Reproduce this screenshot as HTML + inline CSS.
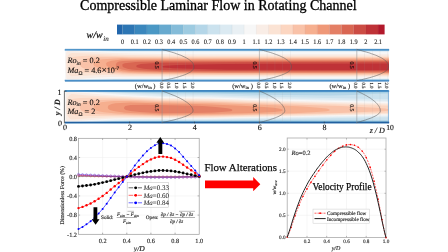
<!DOCTYPE html>
<html><head><meta charset="utf-8"><style>
html,body{margin:0;padding:0;background:#fff;width:448px;height:252px;overflow:hidden}
svg{display:block}
text{font-family:"Liberation Serif","Times New Roman",serif;stroke:#000;stroke-width:0.2px;stroke-opacity:0.6;text-rendering:geometricPrecision}
</style></head><body>
<svg width="448" height="252" viewBox="0 0 448 252">
<rect width="448" height="252" fill="#fff"/>
<text transform="translate(218.3 10.4) scale(0.96 1)" font-size="14.6" text-anchor="middle" fill="#000" style="stroke-width:0.3px;stroke-opacity:1;text-rendering:auto">Compressible Laminar Flow in Rotating Channel</text>
<text x="86.5" y="38.3" font-size="10" font-style="italic" fill="#000" style="stroke-width:0.3px;text-rendering:geometricPrecision">w/w<tspan font-size="7" dx="0.6" dy="2.4" style="stroke-width:0.1px">in</tspan></text>
<rect x="117" y="24.6" width="5.50" height="9.8" fill="#2166ac"/>
<rect x="122.50" y="24.6" width="12.22" height="9.8" fill="#2d76b4"/>
<rect x="134.67" y="24.6" width="12.22" height="9.8" fill="#3a87bd"/>
<rect x="146.84" y="24.6" width="12.22" height="9.8" fill="#4a98c5"/>
<rect x="159.01" y="24.6" width="12.22" height="9.8" fill="#67aacf"/>
<rect x="171.18" y="24.6" width="12.22" height="9.8" fill="#84bcd9"/>
<rect x="183.35" y="24.6" width="12.22" height="9.8" fill="#9dcbe1"/>
<rect x="195.52" y="24.6" width="12.22" height="9.8" fill="#b4d6e8"/>
<rect x="207.69" y="24.6" width="12.22" height="9.8" fill="#cbe2ee"/>
<rect x="219.86" y="24.6" width="12.22" height="9.8" fill="#dbeaf2"/>
<rect x="232.03" y="24.6" width="12.22" height="9.8" fill="#e9f0f4"/>
<rect x="244.20" y="24.6" width="12.22" height="9.8" fill="#f7f7f7"/>
<rect x="256.37" y="24.6" width="12.22" height="9.8" fill="#f9ede6"/>
<rect x="268.54" y="24.6" width="12.22" height="9.8" fill="#fbe3d4"/>
<rect x="280.71" y="24.6" width="12.22" height="9.8" fill="#fcd6c1"/>
<rect x="292.88" y="24.6" width="12.22" height="9.8" fill="#f9c2a8"/>
<rect x="305.05" y="24.6" width="12.22" height="9.8" fill="#f6af8f"/>
<rect x="317.22" y="24.6" width="12.22" height="9.8" fill="#ef9878"/>
<rect x="329.39" y="24.6" width="12.22" height="9.8" fill="#e47f65"/>
<rect x="341.56" y="24.6" width="12.22" height="9.8" fill="#d96652"/>
<rect x="353.73" y="24.6" width="12.22" height="9.8" fill="#cc4c44"/>
<rect x="365.90" y="24.6" width="12.22" height="9.8" fill="#bf3237"/>
<rect x="378.07" y="24.6" width="6.53" height="9.8" fill="#b2182b"/>
<line x1="122.50" y1="24.6" x2="122.50" y2="34.4" stroke="#000" stroke-opacity="0.07" stroke-width="0.6"/>
<line x1="134.67" y1="24.6" x2="134.67" y2="34.4" stroke="#000" stroke-opacity="0.07" stroke-width="0.6"/>
<line x1="146.84" y1="24.6" x2="146.84" y2="34.4" stroke="#000" stroke-opacity="0.07" stroke-width="0.6"/>
<line x1="159.01" y1="24.6" x2="159.01" y2="34.4" stroke="#000" stroke-opacity="0.07" stroke-width="0.6"/>
<line x1="171.18" y1="24.6" x2="171.18" y2="34.4" stroke="#000" stroke-opacity="0.07" stroke-width="0.6"/>
<line x1="183.35" y1="24.6" x2="183.35" y2="34.4" stroke="#000" stroke-opacity="0.07" stroke-width="0.6"/>
<line x1="195.52" y1="24.6" x2="195.52" y2="34.4" stroke="#000" stroke-opacity="0.07" stroke-width="0.6"/>
<line x1="207.69" y1="24.6" x2="207.69" y2="34.4" stroke="#000" stroke-opacity="0.07" stroke-width="0.6"/>
<line x1="219.86" y1="24.6" x2="219.86" y2="34.4" stroke="#000" stroke-opacity="0.07" stroke-width="0.6"/>
<line x1="232.03" y1="24.6" x2="232.03" y2="34.4" stroke="#000" stroke-opacity="0.07" stroke-width="0.6"/>
<line x1="244.20" y1="24.6" x2="244.20" y2="34.4" stroke="#000" stroke-opacity="0.07" stroke-width="0.6"/>
<line x1="256.37" y1="24.6" x2="256.37" y2="34.4" stroke="#000" stroke-opacity="0.07" stroke-width="0.6"/>
<line x1="268.54" y1="24.6" x2="268.54" y2="34.4" stroke="#000" stroke-opacity="0.07" stroke-width="0.6"/>
<line x1="280.71" y1="24.6" x2="280.71" y2="34.4" stroke="#000" stroke-opacity="0.07" stroke-width="0.6"/>
<line x1="292.88" y1="24.6" x2="292.88" y2="34.4" stroke="#000" stroke-opacity="0.07" stroke-width="0.6"/>
<line x1="305.05" y1="24.6" x2="305.05" y2="34.4" stroke="#000" stroke-opacity="0.07" stroke-width="0.6"/>
<line x1="317.22" y1="24.6" x2="317.22" y2="34.4" stroke="#000" stroke-opacity="0.07" stroke-width="0.6"/>
<line x1="329.39" y1="24.6" x2="329.39" y2="34.4" stroke="#000" stroke-opacity="0.07" stroke-width="0.6"/>
<line x1="341.56" y1="24.6" x2="341.56" y2="34.4" stroke="#000" stroke-opacity="0.07" stroke-width="0.6"/>
<line x1="353.73" y1="24.6" x2="353.73" y2="34.4" stroke="#000" stroke-opacity="0.07" stroke-width="0.6"/>
<line x1="365.90" y1="24.6" x2="365.90" y2="34.4" stroke="#000" stroke-opacity="0.07" stroke-width="0.6"/>
<line x1="378.07" y1="24.6" x2="378.07" y2="34.4" stroke="#000" stroke-opacity="0.07" stroke-width="0.6"/>
<text transform="translate(122.50 43.9) scale(1 1.1)" font-size="6.3" text-anchor="middle" fill="#111" style="stroke-opacity:0.3">0</text>
<text transform="translate(134.67 43.9) scale(1 1.1)" font-size="6.3" text-anchor="middle" fill="#111" style="stroke-opacity:0.3">0.1</text>
<text transform="translate(146.84 43.9) scale(1 1.1)" font-size="6.3" text-anchor="middle" fill="#111" style="stroke-opacity:0.3">0.2</text>
<text transform="translate(159.01 43.9) scale(1 1.1)" font-size="6.3" text-anchor="middle" fill="#111" style="stroke-opacity:0.3">0.3</text>
<text transform="translate(171.18 43.9) scale(1 1.1)" font-size="6.3" text-anchor="middle" fill="#111" style="stroke-opacity:0.3">0.4</text>
<text transform="translate(183.35 43.9) scale(1 1.1)" font-size="6.3" text-anchor="middle" fill="#111" style="stroke-opacity:0.3">0.5</text>
<text transform="translate(195.52 43.9) scale(1 1.1)" font-size="6.3" text-anchor="middle" fill="#111" style="stroke-opacity:0.3">0.6</text>
<text transform="translate(207.69 43.9) scale(1 1.1)" font-size="6.3" text-anchor="middle" fill="#111" style="stroke-opacity:0.3">0.7</text>
<text transform="translate(219.86 43.9) scale(1 1.1)" font-size="6.3" text-anchor="middle" fill="#111" style="stroke-opacity:0.3">0.8</text>
<text transform="translate(232.03 43.9) scale(1 1.1)" font-size="6.3" text-anchor="middle" fill="#111" style="stroke-opacity:0.3">0.9</text>
<text transform="translate(244.20 43.9) scale(1 1.1)" font-size="6.3" text-anchor="middle" fill="#111" style="stroke-opacity:0.3">1</text>
<text transform="translate(256.37 43.9) scale(1 1.1)" font-size="6.3" text-anchor="middle" fill="#111" style="stroke-opacity:0.3">1.1</text>
<text transform="translate(268.54 43.9) scale(1 1.1)" font-size="6.3" text-anchor="middle" fill="#111" style="stroke-opacity:0.3">1.2</text>
<text transform="translate(280.71 43.9) scale(1 1.1)" font-size="6.3" text-anchor="middle" fill="#111" style="stroke-opacity:0.3">1.3</text>
<text transform="translate(292.88 43.9) scale(1 1.1)" font-size="6.3" text-anchor="middle" fill="#111" style="stroke-opacity:0.3">1.4</text>
<text transform="translate(305.05 43.9) scale(1 1.1)" font-size="6.3" text-anchor="middle" fill="#111" style="stroke-opacity:0.3">1.5</text>
<text transform="translate(317.22 43.9) scale(1 1.1)" font-size="6.3" text-anchor="middle" fill="#111" style="stroke-opacity:0.3">1.6</text>
<text transform="translate(329.39 43.9) scale(1 1.1)" font-size="6.3" text-anchor="middle" fill="#111" style="stroke-opacity:0.3">1.7</text>
<text transform="translate(341.56 43.9) scale(1 1.1)" font-size="6.3" text-anchor="middle" fill="#111" style="stroke-opacity:0.3">1.8</text>
<text transform="translate(353.73 43.9) scale(1 1.1)" font-size="6.3" text-anchor="middle" fill="#111" style="stroke-opacity:0.3">1.9</text>
<text transform="translate(365.90 43.9) scale(1 1.1)" font-size="6.3" text-anchor="middle" fill="#111" style="stroke-opacity:0.3">2</text>
<text transform="translate(378.07 43.9) scale(1 1.1)" font-size="6.3" text-anchor="middle" fill="#111" style="stroke-opacity:0.3">2.1</text>
<clipPath id="cp0"><rect x="65" y="48.8" width="324" height="32.7"/></clipPath>
<g><g clip-path="url(#cp0)">
<rect x="61.5" y="48.8" width="331.0" height="32.7" fill="#2166ac"/>
<path fill="#2d76b4" d="M61.5 81.1 61.5 81.5 392.4 81.5 392.4 48.8 61.5 48.8 61.5 81.1Z"/>
<path fill="#3a87bd" d="M61.5 81.1 61.5 81.2 66.6 81.3 113.9 81.0 392.4 81.0 392.4 49.3 113.9 49.3 61.5 49.1 61.5 81.1Z"/>
<path fill="#4a98c5" d="M61.5 80.7 61.5 81.0 66.6 81.0 113.9 80.7 392.4 80.7 392.4 49.6 113.9 49.6 61.5 49.3 61.5 80.7Z"/>
<path fill="#67aacf" d="M61.5 80.7 61.5 80.9 66.6 80.9 113.9 80.5 392.4 80.5 392.4 49.8 113.9 49.8 61.5 49.4 61.5 80.7Z"/>
<path fill="#84bcd9" d="M61.5 80.7 61.5 80.8 67.8 80.8 113.9 80.3 392.4 80.2 392.4 50.1 113.9 50.0 61.5 49.5 61.5 80.7Z"/>
<path fill="#9dcbe1" d="M61.5 80.7 113.9 80.1 392.4 80.0 392.4 50.3 113.9 50.2 61.5 49.6 61.5 80.7Z"/>
<path fill="#b4d6e8" d="M61.5 80.3 61.5 80.5 66.6 80.6 113.9 79.8 392.4 79.8 392.4 50.5 113.9 50.5 61.5 49.8 61.5 80.3Z"/>
<path fill="#cbe2ee" d="M61.5 80.3 61.5 80.4 70.4 80.4 113.9 79.6 392.4 79.6 392.4 50.7 113.9 50.7 71.7 49.9 61.5 49.9 61.5 80.3Z"/>
<path fill="#dbeaf2" d="M64.1 80.3 72.1 80.3 113.9 79.3 392.4 79.3 392.4 51.0 113.9 51.0 71.7 50.0 61.5 50.0 61.5 80.3 64.1 80.3Z"/>
<path fill="#e9f0f4" d="M61.5 79.8 61.5 80.0 66.6 80.1 70.4 80.1 113.9 79.0 392.4 78.9 392.4 51.4 129.2 51.3 112.6 51.3 70.4 50.2 61.5 50.3 61.5 79.8Z"/>
<path fill="#f7f7f7" d="M66.1 79.8 72.3 79.8 113.9 78.4 392.4 78.3 392.4 52.1 133.0 52.0 113.9 51.8 73.0 50.5 66.6 50.4 64.4 50.9 64.1 51.3 64.0 51.7 64.0 78.6 64.1 79.0 64.5 79.4 66.1 79.8Z"/>
<path fill="#f9ede6" d="M66.7 79.0 69.1 79.3 71.7 79.4 97.2 77.6 111.3 77.1 129.2 77.3 186.7 77.1 392.4 77.2 392.4 54.2 214.8 54.2 158.6 54.0 130.5 53.5 112.6 52.9 72.9 50.9 68.8 50.9 66.5 51.3 66.1 52.9 65.7 55.8 65.6 62.0 65.7 71.6 66.1 76.5 66.5 78.6 66.7 79.0Z"/>
<path fill="#fbe3d4" d="M71.2 76.1 71.7 76.3 93.4 75.2 101.1 75.0 110.0 75.1 130.5 75.9 392.4 76.0 392.4 55.8 217.4 55.8 158.6 55.6 129.2 55.1 71.7 53.0 69.9 53.8 68.8 54.6 67.8 55.8 66.8 58.3 66.5 60.8 66.6 68.5 67.1 71.2 67.8 72.9 68.9 74.5 70.4 75.8 71.2 76.1Z"/>
<path fill="#fcd6c1" d="M148.7 74.9 227.6 75.1 392.4 75.2 392.4 56.9 176.5 56.8 130.5 56.4 97.2 55.6 87.0 55.8 79.3 56.2 74.6 56.7 71.7 57.2 70.4 58.9 69.8 61.6 69.9 66.6 70.4 69.1 71.1 70.3 71.8 71.2 75.9 72.0 81.9 72.5 97.2 72.9 110.0 73.5 121.5 74.4 129.2 74.7 148.7 74.9Z"/>
<path fill="#f9c2a8" d="M150.0 74.0 227.6 74.4 392.4 74.4 392.4 57.8 194.4 57.8 130.5 57.5 121.5 57.2 97.2 57.3 90.8 57.9 87.0 58.5 83.1 59.6 80.9 60.8 80.2 61.6 79.9 62.9 79.9 64.5 80.3 65.8 80.9 66.6 82.0 67.4 83.6 68.3 85.7 69.0 88.3 69.6 92.1 70.2 110.0 71.9 122.8 73.4 130.5 73.8 150.0 74.0Z"/>
<path fill="#f6af8f" d="M208.7 73.6 392.4 73.8 392.4 58.6 193.1 58.7 129.2 58.5 121.5 58.3 102.3 59.2 97.2 59.9 95.7 60.4 94.2 61.2 93.5 62.0 93.3 63.7 93.6 64.9 94.7 66.2 96.2 67.0 98.4 67.8 102.3 68.9 121.5 72.2 130.5 72.9 161.1 73.5 208.7 73.6Z"/>
<path fill="#ef9878" d="M174.8 72.8 227.6 73.1 392.4 73.1 392.4 59.4 121.5 59.5 113.9 60.4 111.5 60.8 107.5 62.0 106.8 62.5 106.3 63.3 106.3 64.5 106.6 65.4 107.9 66.6 112.6 68.7 118.5 70.3 122.8 71.2 131.6 72.0 161.1 72.7 174.8 72.8Z"/>
<path fill="#e47f65" d="M223.2 72.4 392.4 72.5 392.4 60.3 162.4 60.4 136.9 60.6 122.8 60.9 119.0 61.6 117.9 62.0 116.6 62.9 115.9 64.1 115.8 65.4 116.1 66.2 116.8 67.0 117.8 67.8 119.3 68.7 121.5 69.5 129.2 70.7 136.9 71.2 162.4 72.0 223.2 72.4Z"/>
<path fill="#d96652" d="M209.9 71.6 392.4 71.8 392.4 61.1 162.4 61.4 135.6 62.0 124.8 63.3 123.5 63.7 122.8 64.1 122.5 64.5 122.4 65.8 122.7 66.6 123.8 67.4 127.4 68.7 131.7 69.5 136.9 70.0 162.4 71.2 209.9 71.6Z"/>
<path fill="#cc4c44" d="M214.8 70.7 392.4 71.0 392.4 62.1 226.3 62.3 162.4 62.7 156.0 63.0 144.5 63.7 141.0 64.1 137.3 64.9 136.6 65.4 136.3 65.8 136.3 66.6 136.9 67.2 138.6 67.8 143.7 68.7 152.5 69.5 162.4 70.1 214.8 70.7Z"/>
<path fill="#bf3237" d="M363.7 69.9 392.4 69.9 392.4 63.5 226.3 63.9 195.6 64.4 177.3 64.9 164.8 65.8 162.7 66.2 162.3 66.6 162.4 67.1 163.3 67.4 166.9 67.8 173.6 68.3 198.6 69.1 226.3 69.7 363.7 69.9Z"/>
</g></g>
<rect x="64.7" y="49.2" width="324.5" height="1.4" fill="#4a8fc8"/>
<rect x="64.7" y="79.8" width="324.5" height="1.4" fill="#4a8fc8"/>
<line x1="169.8" y1="49.8" x2="169.8" y2="80.5" stroke="#999" stroke-width="0.3" opacity="0.35"/>
<line x1="177.6" y1="49.8" x2="177.6" y2="80.5" stroke="#999" stroke-width="0.3" opacity="0.35"/>
<line x1="185.3" y1="49.8" x2="185.3" y2="80.5" stroke="#999" stroke-width="0.3" opacity="0.35"/>
<line x1="193.1" y1="49.8" x2="193.1" y2="80.5" stroke="#999" stroke-width="0.3" opacity="0.35"/>
<line x1="162.1" y1="48.8" x2="162.1" y2="81.5" stroke="#8a8a8a" stroke-width="0.5"/>
<path d="M162.1 80.7 L164.6 80.2 L167.1 79.7 L169.5 79.1 L171.7 78.6 L173.8 78.1 L175.8 77.6 L177.7 77.1 L179.5 76.5 L181.1 76.0 L182.7 75.5 L184.1 75.0 L185.5 74.5 L186.7 73.9 L187.8 73.4 L188.8 72.9 L189.8 72.4 L190.6 71.9 L191.3 71.3 L191.9 70.8 L192.4 70.3 L192.9 69.8 L193.2 69.3 L193.5 68.7 L193.7 68.2 L193.8 67.7 L193.8 67.2 L193.8 66.7 L193.8 66.1 L193.7 65.6 L193.6 65.1 L193.4 64.6 L193.2 64.1 L193.0 63.5 L192.6 63.0 L192.3 62.5 L191.8 62.0 L191.3 61.5 L190.8 60.9 L190.2 60.4 L189.5 59.9 L188.8 59.4 L188.0 58.9 L187.1 58.3 L186.2 57.8 L185.2 57.3 L184.1 56.8 L183.0 56.3 L181.8 55.7 L180.6 55.2 L179.2 54.7 L177.8 54.2 L176.4 53.7 L174.8 53.1 L173.2 52.6 L171.5 52.1 L169.8 51.6 L168.0 51.1 L166.1 50.5 L164.1 50.0 L162.1 49.5" fill="none" stroke="#5a5a5a" stroke-width="0.55"/>
<text transform="translate(155.2 65.0) rotate(90)" font-size="5.8" text-anchor="middle" fill="#111">0.5</text>
<line x1="267.1" y1="49.8" x2="267.1" y2="80.5" stroke="#999" stroke-width="0.3" opacity="0.35"/>
<line x1="274.9" y1="49.8" x2="274.9" y2="80.5" stroke="#999" stroke-width="0.3" opacity="0.35"/>
<line x1="282.6" y1="49.8" x2="282.6" y2="80.5" stroke="#999" stroke-width="0.3" opacity="0.35"/>
<line x1="290.4" y1="49.8" x2="290.4" y2="80.5" stroke="#999" stroke-width="0.3" opacity="0.35"/>
<line x1="259.4" y1="48.8" x2="259.4" y2="81.5" stroke="#8a8a8a" stroke-width="0.5"/>
<path d="M259.4 80.7 L262.0 80.2 L264.5 79.7 L266.9 79.1 L269.1 78.6 L271.3 78.1 L273.3 77.6 L275.2 77.1 L277.0 76.5 L278.7 76.0 L280.2 75.5 L281.7 75.0 L283.0 74.5 L284.3 73.9 L285.4 73.4 L286.4 72.9 L287.4 72.4 L288.2 71.9 L288.9 71.3 L289.5 70.8 L290.1 70.3 L290.5 69.8 L290.9 69.3 L291.1 68.7 L291.3 68.2 L291.4 67.7 L291.5 67.2 L291.5 66.7 L291.5 66.1 L291.4 65.6 L291.3 65.1 L291.1 64.6 L290.9 64.1 L290.6 63.5 L290.3 63.0 L289.9 62.5 L289.5 62.0 L289.0 61.5 L288.4 60.9 L287.8 60.4 L287.1 59.9 L286.4 59.4 L285.6 58.9 L284.7 58.3 L283.8 57.8 L282.8 57.3 L281.7 56.8 L280.6 56.3 L279.4 55.7 L278.1 55.2 L276.7 54.7 L275.3 54.2 L273.9 53.7 L272.3 53.1 L270.7 52.6 L269.0 52.1 L267.2 51.6 L265.4 51.1 L263.5 50.5 L261.5 50.0 L259.4 49.5" fill="none" stroke="#5a5a5a" stroke-width="0.55"/>
<text transform="translate(252.5 65.0) rotate(90)" font-size="5.8" text-anchor="middle" fill="#111">0.5</text>
<line x1="364.5" y1="49.8" x2="364.5" y2="80.5" stroke="#999" stroke-width="0.3" opacity="0.35"/>
<line x1="372.2" y1="49.8" x2="372.2" y2="80.5" stroke="#999" stroke-width="0.3" opacity="0.35"/>
<line x1="380.0" y1="49.8" x2="380.0" y2="80.5" stroke="#999" stroke-width="0.3" opacity="0.35"/>
<line x1="387.8" y1="49.8" x2="387.8" y2="80.5" stroke="#999" stroke-width="0.3" opacity="0.35"/>
<line x1="356.8" y1="48.8" x2="356.8" y2="81.5" stroke="#8a8a8a" stroke-width="0.5"/>
<path d="M356.8 80.7 L359.2 80.2 L361.6 79.7 L363.8 79.1 L366.0 78.6 L368.0 78.1 L369.9 77.6 L371.7 77.1 L373.5 76.5 L375.1 76.0 L376.6 75.5 L378.0 75.0 L379.3 74.5 L380.6 73.9 L381.7 73.4 L382.7 72.9 L383.7 72.4 L384.5 71.9 L385.3 71.3 L385.9 70.8 L386.5 70.3 L387.0 69.8 L387.4 69.3 L387.7 68.7 L388.0 68.2 L388.2 67.7 L388.3 67.2 L388.3 66.7 L388.3 66.1 L388.3 65.6 L388.2 65.1 L388.1 64.6 L388.0 64.1 L387.7 63.5 L387.5 63.0 L387.1 62.5 L386.7 62.0 L386.3 61.5 L385.8 60.9 L385.2 60.4 L384.5 59.9 L383.8 59.4 L383.0 58.9 L382.2 58.3 L381.3 57.8 L380.3 57.3 L379.2 56.8 L378.1 56.3 L376.9 55.7 L375.7 55.2 L374.3 54.7 L372.9 54.2 L371.4 53.7 L369.9 53.1 L368.2 52.6 L366.5 52.1 L364.7 51.6 L362.8 51.1 L360.9 50.5 L358.9 50.0 L356.8 49.5" fill="none" stroke="#5a5a5a" stroke-width="0.55"/>
<text transform="translate(349.9 65.0) rotate(90)" font-size="5.8" text-anchor="middle" fill="#111">0.5</text>
<clipPath id="cp1"><rect x="65" y="90.1" width="324" height="33.3"/></clipPath>
<g><g clip-path="url(#cp1)">
<rect x="61.5" y="90.1" width="331.0" height="33.3" fill="#2166ac"/>
<path fill="#2d76b4" d="M61.5 123.0 61.5 123.4 392.4 123.4 392.4 90.1 61.5 90.1 61.5 123.0Z"/>
<path fill="#3a87bd" d="M61.5 123.0 61.5 123.1 66.6 123.2 113.9 122.8 162.4 122.7 392.4 122.7 392.4 90.8 162.4 90.8 61.5 90.4 61.5 123.0Z"/>
<path fill="#4a98c5" d="M61.5 122.6 61.5 122.9 66.6 122.9 113.9 122.5 162.4 122.3 392.4 122.4 392.4 91.1 162.4 91.2 113.9 91.0 61.5 90.6 61.5 122.6Z"/>
<path fill="#67aacf" d="M61.5 122.6 61.5 122.8 66.6 122.8 113.9 122.2 162.4 122.0 392.4 122.1 392.4 91.4 162.4 91.5 113.9 91.3 61.5 90.7 61.5 122.6Z"/>
<path fill="#84bcd9" d="M61.5 122.6 61.5 122.7 67.8 122.7 113.9 122.0 162.4 121.8 264.6 121.6 392.4 121.8 392.4 91.7 259.5 91.9 162.4 91.8 113.9 91.5 61.5 90.8 61.5 122.6Z"/>
<path fill="#9dcbe1" d="M61.5 122.6 71.7 122.5 113.9 121.8 162.4 121.4 274.9 121.2 392.4 121.4 392.4 92.1 259.5 92.4 162.4 92.1 113.9 91.7 71.7 91.0 61.5 90.9 61.5 122.6Z"/>
<path fill="#b4d6e8" d="M61.5 122.1 61.5 122.4 69.1 122.4 113.9 121.5 162.4 121.1 291.5 120.7 392.4 121.0 392.4 92.5 259.5 93.0 211.0 92.7 162.4 92.6 113.9 92.0 71.7 91.1 61.5 91.1 61.5 122.1Z"/>
<path fill="#cbe2ee" d="M61.5 122.1 61.5 122.3 71.7 122.3 113.9 121.2 157.3 120.7 211.0 120.6 303.0 119.8 349.0 119.7 392.4 120.1 392.4 93.5 373.6 93.9 345.2 95.2 329.8 95.4 309.4 95.3 259.5 94.7 211.0 93.4 162.4 93.3 113.9 92.3 79.8 91.4 61.5 91.2 61.5 122.1Z"/>
<path fill="#dbeaf2" d="M64.1 122.1 73.2 122.1 112.6 120.9 131.7 120.6 162.4 120.2 211.0 120.0 342.2 117.9 392.4 117.3 392.4 99.2 328.8 98.1 259.5 96.6 211.0 94.9 162.4 94.5 141.7 93.5 89.0 91.8 71.7 91.3 61.5 91.4 61.5 122.1 64.1 122.1Z"/>
<path fill="#e9f0f4" d="M61.5 121.7 61.5 121.8 66.6 122.0 71.7 122.0 93.7 121.3 113.9 120.4 140.7 119.7 211.0 119.3 355.7 116.7 392.4 116.2 392.4 101.0 259.5 98.0 211.0 96.3 162.4 95.9 120.8 93.5 93.4 92.2 70.4 91.5 61.5 91.7 61.5 121.7Z"/>
<path fill="#f7f7f7" d="M65.8 121.7 71.7 121.8 84.8 121.3 113.9 119.6 133.0 119.0 211.0 118.6 356.7 115.8 392.4 115.3 392.4 102.2 259.5 99.1 211.0 97.5 162.4 97.0 131.7 95.4 92.9 92.6 74.1 91.8 66.6 91.7 64.4 92.2 64.1 92.6 64.0 93.1 64.0 120.4 64.1 120.9 64.4 121.3 65.8 121.7Z"/>
<path fill="#f9ede6" d="M66.8 121.3 74.8 121.3 104.9 118.9 113.9 118.4 122.8 118.2 211.0 117.9 356.7 115.1 392.4 114.5 392.4 103.4 259.5 100.2 211.0 98.6 162.4 98.1 121.2 96.0 103.6 94.8 86.1 93.1 74.7 92.2 66.8 92.2 66.3 92.6 65.9 95.6 65.5 106.1 65.8 117.5 66.3 120.9 66.8 121.3Z"/>
<path fill="#fbe3d4" d="M70.7 119.2 71.7 119.5 92.1 118.0 113.9 117.2 135.6 117.2 162.4 117.4 211.0 117.2 392.4 113.8 392.4 104.5 259.5 101.2 211.0 99.6 162.4 99.1 97.2 96.0 84.5 95.2 71.7 94.1 70.0 94.7 68.4 96.4 67.3 98.5 66.6 101.7 66.5 111.2 66.9 113.7 67.4 115.4 68.3 117.1 69.5 118.3 70.7 119.2Z"/>
<path fill="#fcd6c1" d="M157.7 116.7 211.0 116.5 392.4 112.8 392.4 105.9 259.5 102.2 211.0 100.7 162.4 100.1 113.9 98.1 92.1 97.8 80.6 98.0 75.5 98.4 71.7 99.1 70.6 100.6 70.2 101.9 69.9 104.0 69.9 109.9 70.4 112.5 71.4 114.1 72.0 114.5 74.2 115.0 78.1 115.5 87.0 115.9 113.9 116.0 157.7 116.7Z"/>
<path fill="#f9c2a8" d="M151.5 115.8 162.4 116.1 211.0 115.8 293.3 114.1 339.3 112.9 376.2 111.6 383.6 111.2 387.7 110.8 389.7 110.3 389.9 109.9 389.1 109.5 387.7 109.1 385.3 108.6 376.2 107.8 369.3 107.4 341.7 106.1 307.0 104.9 211.0 101.7 162.4 101.1 129.2 99.8 116.4 99.5 103.6 99.7 96.0 100.0 89.6 100.7 85.6 101.5 83.1 102.3 81.9 103.0 80.7 104.0 80.0 105.3 79.8 107.0 80.0 108.6 80.8 109.9 81.7 110.8 84.4 112.0 87.0 112.8 89.7 113.3 99.8 114.3 129.2 115.3 151.5 115.8Z"/>
<path fill="#f6af8f" d="M150.0 115.0 162.4 115.3 209.7 115.0 272.6 113.7 298.4 112.9 316.7 112.0 326.7 111.2 329.0 110.8 329.7 110.3 329.7 109.9 329.4 109.5 328.4 109.1 326.6 108.6 315.6 107.4 302.7 106.5 275.1 105.3 211.0 102.9 162.4 102.2 129.2 101.1 113.9 101.1 107.5 101.5 101.1 102.3 97.4 103.2 95.5 104.0 94.4 104.9 93.9 105.7 93.7 106.5 93.7 107.8 93.9 108.6 94.5 109.5 96.7 110.8 99.5 111.6 103.6 112.3 116.4 113.5 129.2 114.3 150.0 115.0Z"/>
<path fill="#ef9878" d="M152.7 114.1 162.4 114.5 194.4 114.3 243.7 113.3 259.5 112.8 273.6 112.0 281.1 111.2 282.4 110.8 282.6 110.3 282.5 109.9 282.1 109.5 281.2 109.1 277.1 108.2 273.7 107.8 263.8 107.0 241.2 105.7 211.0 104.4 195.6 103.9 162.4 103.5 130.5 102.6 125.4 102.7 115.1 103.3 111.7 104.0 109.4 104.9 108.8 105.3 108.0 106.1 107.8 107.8 108.1 108.6 108.5 109.1 109.9 109.9 112.5 110.8 116.4 111.6 125.4 112.7 130.5 113.1 152.7 114.1Z"/>
<path fill="#e47f65" d="M160.5 113.3 194.4 113.1 214.9 112.4 227.8 111.6 230.8 111.2 232.1 110.8 232.4 110.3 232.3 109.9 231.9 109.5 231.1 109.1 227.3 108.2 215.5 107.0 202.4 106.1 194.4 105.7 145.8 104.8 130.5 105.0 126.5 105.7 125.4 106.1 124.3 107.0 124.0 108.2 124.4 109.1 125.8 109.9 126.9 110.3 130.5 111.1 139.9 112.0 160.5 113.3Z"/>
</g></g>
<rect x="388.2" y="90.1" width="0.8" height="33.3" fill="#7fb0da"/>
<rect x="64.7" y="90.5" width="324.5" height="1.4" fill="#4a8fc8"/>
<rect x="64.7" y="121.7" width="324.5" height="1.4" fill="#22609f"/>
<line x1="169.8" y1="91.1" x2="169.8" y2="122.4" stroke="#999" stroke-width="0.3" opacity="0.35"/>
<line x1="177.6" y1="91.1" x2="177.6" y2="122.4" stroke="#999" stroke-width="0.3" opacity="0.35"/>
<line x1="185.3" y1="91.1" x2="185.3" y2="122.4" stroke="#999" stroke-width="0.3" opacity="0.35"/>
<line x1="193.1" y1="91.1" x2="193.1" y2="122.4" stroke="#999" stroke-width="0.3" opacity="0.35"/>
<line x1="162.1" y1="90.1" x2="162.1" y2="123.4" stroke="#8a8a8a" stroke-width="0.5"/>
<path d="M162.1 122.5 L164.6 122.0 L167.1 121.5 L169.5 120.9 L171.8 120.4 L174.0 119.9 L176.0 119.3 L178.0 118.8 L179.8 118.3 L181.5 117.8 L183.1 117.2 L184.6 116.7 L186.0 116.2 L187.2 115.7 L188.4 115.2 L189.4 114.6 L190.3 114.1 L191.1 113.6 L191.7 113.0 L192.3 112.5 L192.7 112.0 L192.9 111.5 L193.0 111.0 L193.0 110.4 L193.0 109.9 L192.8 109.4 L192.7 108.8 L192.4 108.3 L192.2 107.8 L191.9 107.3 L191.5 106.8 L191.1 106.2 L190.7 105.7 L190.2 105.2 L189.7 104.7 L189.1 104.1 L188.5 103.6 L187.8 103.1 L187.1 102.5 L186.4 102.0 L185.6 101.5 L184.8 101.0 L184.0 100.5 L183.1 99.9 L182.2 99.4 L181.2 98.9 L180.2 98.3 L179.1 97.8 L178.0 97.3 L176.9 96.8 L175.8 96.2 L174.6 95.7 L173.3 95.2 L172.0 94.7 L170.7 94.2 L169.4 93.6 L168.0 93.1 L166.6 92.6 L165.1 92.0 L163.6 91.5 L162.1 91.0" fill="none" stroke="#5a5a5a" stroke-width="0.55"/>
<text transform="translate(155.2 107.8) rotate(90)" font-size="5.8" text-anchor="middle" fill="#111">0.5</text>
<line x1="267.1" y1="91.1" x2="267.1" y2="122.4" stroke="#999" stroke-width="0.3" opacity="0.35"/>
<line x1="274.9" y1="91.1" x2="274.9" y2="122.4" stroke="#999" stroke-width="0.3" opacity="0.35"/>
<line x1="282.6" y1="91.1" x2="282.6" y2="122.4" stroke="#999" stroke-width="0.3" opacity="0.35"/>
<line x1="290.4" y1="91.1" x2="290.4" y2="122.4" stroke="#999" stroke-width="0.3" opacity="0.35"/>
<line x1="259.4" y1="90.1" x2="259.4" y2="123.4" stroke="#8a8a8a" stroke-width="0.5"/>
<path d="M259.4 122.5 L261.5 122.0 L263.6 121.5 L265.5 120.9 L267.4 120.4 L269.2 119.9 L270.8 119.3 L272.4 118.8 L273.9 118.3 L275.3 117.8 L276.7 117.2 L277.9 116.7 L279.0 116.2 L280.0 115.7 L281.0 115.2 L281.8 114.6 L282.5 114.1 L283.2 113.6 L283.7 113.0 L284.2 112.5 L284.5 112.0 L284.7 111.5 L284.8 111.0 L284.8 110.4 L284.7 109.9 L284.6 109.4 L284.5 108.8 L284.3 108.3 L284.1 107.8 L283.8 107.3 L283.5 106.8 L283.2 106.2 L282.8 105.7 L282.4 105.2 L282.0 104.7 L281.6 104.1 L281.1 103.6 L280.5 103.1 L280.0 102.5 L279.4 102.0 L278.7 101.5 L278.1 101.0 L277.4 100.5 L276.6 99.9 L275.9 99.4 L275.1 98.9 L274.3 98.3 L273.4 97.8 L272.5 97.3 L271.6 96.8 L270.6 96.2 L269.6 95.7 L268.6 95.2 L267.6 94.7 L266.5 94.2 L265.4 93.6 L264.3 93.1 L263.1 92.6 L261.9 92.0 L260.7 91.5 L259.4 91.0" fill="none" stroke="#5a5a5a" stroke-width="0.55"/>
<text transform="translate(252.5 107.8) rotate(90)" font-size="5.8" text-anchor="middle" fill="#111">0.5</text>
<line x1="364.5" y1="91.1" x2="364.5" y2="122.4" stroke="#999" stroke-width="0.3" opacity="0.35"/>
<line x1="372.2" y1="91.1" x2="372.2" y2="122.4" stroke="#999" stroke-width="0.3" opacity="0.35"/>
<line x1="380.0" y1="91.1" x2="380.0" y2="122.4" stroke="#999" stroke-width="0.3" opacity="0.35"/>
<line x1="387.8" y1="91.1" x2="387.8" y2="122.4" stroke="#999" stroke-width="0.3" opacity="0.35"/>
<line x1="356.8" y1="90.1" x2="356.8" y2="123.4" stroke="#8a8a8a" stroke-width="0.5"/>
<path d="M356.8 122.5 L358.7 122.0 L360.6 121.5 L362.4 120.9 L364.2 120.4 L365.8 119.9 L367.4 119.3 L368.9 118.8 L370.3 118.3 L371.6 117.8 L372.8 117.2 L373.9 116.7 L375.0 116.2 L375.9 115.7 L376.8 115.2 L377.6 114.6 L378.3 114.1 L378.9 113.6 L379.4 113.0 L379.8 112.5 L380.1 112.0 L380.3 111.5 L380.3 111.0 L380.3 110.4 L380.3 109.9 L380.2 109.4 L380.0 108.8 L379.9 108.3 L379.7 107.8 L379.4 107.3 L379.2 106.8 L378.9 106.2 L378.5 105.7 L378.2 105.2 L377.8 104.7 L377.3 104.1 L376.9 103.6 L376.4 103.1 L375.9 102.5 L375.3 102.0 L374.7 101.5 L374.1 101.0 L373.4 100.5 L372.8 99.9 L372.1 99.4 L371.3 98.9 L370.6 98.3 L369.8 97.8 L368.9 97.3 L368.1 96.8 L367.2 96.2 L366.3 95.7 L365.3 95.2 L364.4 94.7 L363.4 94.2 L362.3 93.6 L361.3 93.1 L360.2 92.6 L359.1 92.0 L357.9 91.5 L356.8 91.0" fill="none" stroke="#5a5a5a" stroke-width="0.55"/>
<text transform="translate(349.9 107.8) rotate(90)" font-size="5.8" text-anchor="middle" fill="#111">0.5</text>
<text x="67.5" y="63.0" font-size="8.2" fill="#111"><tspan font-style="italic">Ro</tspan><tspan font-size="5.4" dy="1.8" font-style="italic">in</tspan><tspan dy="-1.8"> = 0.2</tspan></text>
<text x="67.5" y="72.8" font-size="8.2" fill="#111"><tspan font-style="italic">Ma</tspan><tspan font-size="5.4" dy="1.8">&#937;</tspan><tspan dy="-1.8"> = 4.6<tspan font-size="9.5" font-weight="normal">&#215;</tspan>10<tspan font-size="5" dy="-3.2" font-weight="normal">-7</tspan></tspan></text>
<text x="67.5" y="104.6" font-size="8.2" fill="#111"><tspan font-style="italic">Ro</tspan><tspan font-size="5.4" dy="1.8" font-style="italic">in</tspan><tspan dy="-1.8"> = 0.2</tspan></text>
<text x="67.5" y="114.4" font-size="8.2" fill="#111"><tspan font-style="italic">Ma</tspan><tspan font-size="5.4" dy="1.8">&#937;</tspan><tspan dy="-1.8"> = 2</tspan></text>
<text x="155.5" y="88.1" font-size="6.5" text-anchor="end" fill="#222">(w/w<tspan font-size="4.5" dy="1.2">in</tspan><tspan dy="-1.2"> )</tspan></text>
<text transform="translate(159.7 85.4) rotate(90)" font-size="4.8" text-anchor="middle" fill="#222">0.0</text>
<text transform="translate(167.4 85.4) rotate(90)" font-size="4.8" text-anchor="middle" fill="#222">0.5</text>
<text transform="translate(175.2 85.4) rotate(90)" font-size="4.8" text-anchor="middle" fill="#222">1.0</text>
<text transform="translate(182.9 85.4) rotate(90)" font-size="4.8" text-anchor="middle" fill="#222">1.5</text>
<text transform="translate(190.7 85.4) rotate(90)" font-size="4.8" text-anchor="middle" fill="#222">2.0</text>
<text x="252.8" y="88.1" font-size="6.5" text-anchor="end" fill="#222">(w/w<tspan font-size="4.5" dy="1.2">in</tspan><tspan dy="-1.2"> )</tspan></text>
<text transform="translate(257.0 85.4) rotate(90)" font-size="4.8" text-anchor="middle" fill="#222">0.0</text>
<text transform="translate(264.7 85.4) rotate(90)" font-size="4.8" text-anchor="middle" fill="#222">0.5</text>
<text transform="translate(272.5 85.4) rotate(90)" font-size="4.8" text-anchor="middle" fill="#222">1.0</text>
<text transform="translate(280.2 85.4) rotate(90)" font-size="4.8" text-anchor="middle" fill="#222">1.5</text>
<text transform="translate(288.0 85.4) rotate(90)" font-size="4.8" text-anchor="middle" fill="#222">2.0</text>
<text x="350.1" y="88.1" font-size="6.5" text-anchor="end" fill="#222">(w/w<tspan font-size="4.5" dy="1.2">in</tspan><tspan dy="-1.2"> )</tspan></text>
<text transform="translate(354.3 85.4) rotate(90)" font-size="4.8" text-anchor="middle" fill="#222">0.0</text>
<text transform="translate(362.1 85.4) rotate(90)" font-size="4.8" text-anchor="middle" fill="#222">0.5</text>
<text transform="translate(369.8 85.4) rotate(90)" font-size="4.8" text-anchor="middle" fill="#222">1.0</text>
<text transform="translate(377.6 85.4) rotate(90)" font-size="4.8" text-anchor="middle" fill="#222">1.5</text>
<text transform="translate(385.3 85.4) rotate(90)" font-size="4.8" text-anchor="middle" fill="#222">2.0</text>
<line x1="64.4" y1="90.6" x2="64.4" y2="123.4" stroke="#333" stroke-width="0.7"/>
<line x1="64.4" y1="91.1" x2="66.6" y2="91.1" stroke="#333" stroke-width="0.6"/>
<path d="M129.6 123.4v-1.8M194.5 123.4v-1.8M259.4 123.4v-1.8M324.3 123.4v-1.8" stroke="#333" stroke-width="0.5" fill="none"/>
<text x="59.6" y="94.6" font-size="8" text-anchor="middle" fill="#111">1</text>
<text x="59.9" y="126.4" font-size="8" text-anchor="middle" fill="#111">0</text>
<text transform="translate(59.9 107.2) rotate(-90)" font-size="8.2" font-style="italic" font-weight="bold" text-anchor="middle" fill="#222">y / D</text>
<text x="65.0" y="129.9" font-size="8" text-anchor="middle" fill="#111">0</text>
<text x="129.9" y="129.9" font-size="8" text-anchor="middle" fill="#111">2</text>
<text x="194.8" y="129.9" font-size="8" text-anchor="middle" fill="#111">4</text>
<text x="259.7" y="129.9" font-size="8" text-anchor="middle" fill="#111">6</text>
<text x="324.6" y="129.9" font-size="8" text-anchor="middle" fill="#111">8</text>
<text x="390" y="129.8" font-size="7.6" text-anchor="middle" fill="#111">10</text>
<text x="377.2" y="132.6" font-size="8" font-style="italic" text-anchor="middle" fill="#111">z / D</text>
<rect x="78.5" y="138.3" width="120.7" height="96.0" fill="none" stroke="#9a9a9a" stroke-width="0.7"/>
<line x1="102.6" y1="138.3" x2="102.6" y2="234.3" stroke="#eeeeee" stroke-width="0.5"/>
<line x1="126.8" y1="138.3" x2="126.8" y2="234.3" stroke="#eeeeee" stroke-width="0.5"/>
<line x1="150.9" y1="138.3" x2="150.9" y2="234.3" stroke="#eeeeee" stroke-width="0.5"/>
<line x1="175.1" y1="138.3" x2="175.1" y2="234.3" stroke="#eeeeee" stroke-width="0.5"/>
<line x1="78.5" y1="157.5" x2="199.2" y2="157.5" stroke="#eeeeee" stroke-width="0.5"/>
<line x1="78.5" y1="176.7" x2="199.2" y2="176.7" stroke="#eeeeee" stroke-width="0.5"/>
<line x1="78.5" y1="195.9" x2="199.2" y2="195.9" stroke="#eeeeee" stroke-width="0.5"/>
<line x1="78.5" y1="215.1" x2="199.2" y2="215.1" stroke="#eeeeee" stroke-width="0.5"/>
<path d="M102.6 138.3v1.6M102.6 234.3v-1.6M126.8 138.3v1.6M126.8 234.3v-1.6M150.9 138.3v1.6M150.9 234.3v-1.6M175.1 138.3v1.6M175.1 234.3v-1.6M78.5 157.5h1.6M199.2 157.5h-1.6M78.5 176.7h1.6M199.2 176.7h-1.6M78.5 195.9h1.6M199.2 195.9h-1.6M78.5 215.1h1.6M199.2 215.1h-1.6" stroke="#666" stroke-width="0.5" fill="none"/>
<text x="77" y="140.5" font-size="6.3" text-anchor="end" fill="#333">0.8</text>
<text x="77" y="159.7" font-size="6.3" text-anchor="end" fill="#333">0.4</text>
<text x="77" y="178.9" font-size="6.3" text-anchor="end" fill="#333">0.0</text>
<text x="77" y="198.1" font-size="6.3" text-anchor="end" fill="#333">-0.4</text>
<text x="77" y="217.3" font-size="6.3" text-anchor="end" fill="#333">-0.8</text>
<text x="77" y="236.5" font-size="6.3" text-anchor="end" fill="#333">-1.2</text>
<text x="102.6" y="242.6" font-size="6.3" text-anchor="middle" fill="#333">0.2</text>
<text x="126.8" y="242.6" font-size="6.3" text-anchor="middle" fill="#333">0.4</text>
<text x="150.9" y="242.6" font-size="6.3" text-anchor="middle" fill="#333">0.6</text>
<text x="175.1" y="242.6" font-size="6.3" text-anchor="middle" fill="#333">0.8</text>
<text x="199.2" y="242.6" font-size="6.3" text-anchor="middle" fill="#333">1.0</text>
<text x="139.3" y="250.6" font-size="7.6" font-style="italic" text-anchor="middle" fill="#222">y/D</text>
<text transform="translate(64.3 195.4) rotate(-90)" font-size="5.75" text-anchor="middle" fill="#222">Dimensionless Force (%)</text>
<polyline points="78.5,176.1 82.5,176.2 86.5,176.2 90.6,176.3 94.6,176.3 98.6,176.4 102.6,176.4 106.7,176.5 110.7,176.5 114.7,176.6 118.7,176.6 122.8,176.7 126.8,176.7 130.8,176.7 134.8,176.8 138.8,176.8 142.9,176.8 146.9,176.9 150.9,176.9 154.9,176.9 159.0,176.9 163.0,176.9 167.0,176.9 171.0,176.9 175.1,176.9 179.1,176.9 183.1,176.8 187.1,176.8 191.2,176.8 195.2,176.7 199.2,176.7" fill="none" stroke="#000000" stroke-width="0.5"/>
<polyline points="78.5,175.3 82.5,175.4 86.5,175.5 90.6,175.7 94.6,175.8 98.6,175.9 102.6,176.1 106.7,176.2 110.7,176.3 114.7,176.4 118.7,176.5 122.8,176.6 126.8,176.7 130.8,176.8 134.8,176.8 138.8,176.9 142.9,177.0 146.9,177.0 150.9,177.1 154.9,177.1 159.0,177.1 163.0,177.1 167.0,177.1 171.0,177.1 175.1,177.1 179.1,177.1 183.1,177.0 187.1,176.9 191.2,176.8 195.2,176.8 199.2,176.7" fill="none" stroke="#ff0000" stroke-width="0.5"/>
<polyline points="78.5,174.5 82.5,174.7 86.5,174.9 90.6,175.1 94.6,175.3 98.6,175.5 102.6,175.7 106.7,175.9 110.7,176.1 114.7,176.2 118.7,176.4 122.8,176.5 126.8,176.7 130.8,176.8 134.8,176.9 138.8,177.0 142.9,177.1 146.9,177.2 150.9,177.3 154.9,177.3 159.0,177.3 163.0,177.3 167.0,177.3 171.0,177.3 175.1,177.3 179.1,177.2 183.1,177.1 187.1,177.0 191.2,176.9 195.2,176.8 199.2,176.7" fill="none" stroke="#3333ff" stroke-width="0.5"/>
<circle cx="78.5" cy="175.3" r="1.2" fill="none" stroke="#ff3030" stroke-width="0.45" opacity="0.85"/>
<circle cx="82.5" cy="175.4" r="1.2" fill="none" stroke="#ff3030" stroke-width="0.45" opacity="0.85"/>
<circle cx="86.5" cy="175.5" r="1.2" fill="none" stroke="#ff3030" stroke-width="0.45" opacity="0.85"/>
<circle cx="90.6" cy="175.7" r="1.2" fill="none" stroke="#ff3030" stroke-width="0.45" opacity="0.85"/>
<circle cx="94.6" cy="175.8" r="1.2" fill="none" stroke="#ff3030" stroke-width="0.45" opacity="0.85"/>
<circle cx="98.6" cy="175.9" r="1.2" fill="none" stroke="#ff3030" stroke-width="0.45" opacity="0.85"/>
<circle cx="102.6" cy="176.1" r="1.2" fill="none" stroke="#ff3030" stroke-width="0.45" opacity="0.85"/>
<circle cx="106.7" cy="176.2" r="1.2" fill="none" stroke="#ff3030" stroke-width="0.45" opacity="0.85"/>
<circle cx="110.7" cy="176.3" r="1.2" fill="none" stroke="#ff3030" stroke-width="0.45" opacity="0.85"/>
<circle cx="114.7" cy="176.4" r="1.2" fill="none" stroke="#ff3030" stroke-width="0.45" opacity="0.85"/>
<circle cx="118.7" cy="176.5" r="1.2" fill="none" stroke="#ff3030" stroke-width="0.45" opacity="0.85"/>
<circle cx="122.8" cy="176.6" r="1.2" fill="none" stroke="#ff3030" stroke-width="0.45" opacity="0.85"/>
<circle cx="126.8" cy="176.7" r="1.2" fill="none" stroke="#ff3030" stroke-width="0.45" opacity="0.85"/>
<circle cx="130.8" cy="176.8" r="1.2" fill="none" stroke="#ff3030" stroke-width="0.45" opacity="0.85"/>
<circle cx="134.8" cy="176.8" r="1.2" fill="none" stroke="#ff3030" stroke-width="0.45" opacity="0.85"/>
<circle cx="138.8" cy="176.9" r="1.2" fill="none" stroke="#ff3030" stroke-width="0.45" opacity="0.85"/>
<circle cx="142.9" cy="177.0" r="1.2" fill="none" stroke="#ff3030" stroke-width="0.45" opacity="0.85"/>
<circle cx="146.9" cy="177.0" r="1.2" fill="none" stroke="#ff3030" stroke-width="0.45" opacity="0.85"/>
<circle cx="150.9" cy="177.1" r="1.2" fill="none" stroke="#ff3030" stroke-width="0.45" opacity="0.85"/>
<circle cx="154.9" cy="177.1" r="1.2" fill="none" stroke="#ff3030" stroke-width="0.45" opacity="0.85"/>
<circle cx="159.0" cy="177.1" r="1.2" fill="none" stroke="#ff3030" stroke-width="0.45" opacity="0.85"/>
<circle cx="163.0" cy="177.1" r="1.2" fill="none" stroke="#ff3030" stroke-width="0.45" opacity="0.85"/>
<circle cx="167.0" cy="177.1" r="1.2" fill="none" stroke="#ff3030" stroke-width="0.45" opacity="0.85"/>
<circle cx="171.0" cy="177.1" r="1.2" fill="none" stroke="#ff3030" stroke-width="0.45" opacity="0.85"/>
<circle cx="175.1" cy="177.1" r="1.2" fill="none" stroke="#ff3030" stroke-width="0.45" opacity="0.85"/>
<circle cx="179.1" cy="177.1" r="1.2" fill="none" stroke="#ff3030" stroke-width="0.45" opacity="0.85"/>
<circle cx="183.1" cy="177.0" r="1.2" fill="none" stroke="#ff3030" stroke-width="0.45" opacity="0.85"/>
<circle cx="187.1" cy="176.9" r="1.2" fill="none" stroke="#ff3030" stroke-width="0.45" opacity="0.85"/>
<circle cx="191.2" cy="176.8" r="1.2" fill="none" stroke="#ff3030" stroke-width="0.45" opacity="0.85"/>
<circle cx="195.2" cy="176.8" r="1.2" fill="none" stroke="#ff3030" stroke-width="0.45" opacity="0.85"/>
<circle cx="199.2" cy="176.7" r="1.2" fill="none" stroke="#ff3030" stroke-width="0.45" opacity="0.85"/>
<circle cx="78.5" cy="174.5" r="1.2" fill="none" stroke="#5050ff" stroke-width="0.45" opacity="0.85"/>
<circle cx="82.5" cy="174.7" r="1.2" fill="none" stroke="#5050ff" stroke-width="0.45" opacity="0.85"/>
<circle cx="86.5" cy="174.9" r="1.2" fill="none" stroke="#5050ff" stroke-width="0.45" opacity="0.85"/>
<circle cx="90.6" cy="175.1" r="1.2" fill="none" stroke="#5050ff" stroke-width="0.45" opacity="0.85"/>
<circle cx="94.6" cy="175.3" r="1.2" fill="none" stroke="#5050ff" stroke-width="0.45" opacity="0.85"/>
<circle cx="98.6" cy="175.5" r="1.2" fill="none" stroke="#5050ff" stroke-width="0.45" opacity="0.85"/>
<circle cx="102.6" cy="175.7" r="1.2" fill="none" stroke="#5050ff" stroke-width="0.45" opacity="0.85"/>
<circle cx="106.7" cy="175.9" r="1.2" fill="none" stroke="#5050ff" stroke-width="0.45" opacity="0.85"/>
<circle cx="110.7" cy="176.1" r="1.2" fill="none" stroke="#5050ff" stroke-width="0.45" opacity="0.85"/>
<circle cx="114.7" cy="176.2" r="1.2" fill="none" stroke="#5050ff" stroke-width="0.45" opacity="0.85"/>
<circle cx="118.7" cy="176.4" r="1.2" fill="none" stroke="#5050ff" stroke-width="0.45" opacity="0.85"/>
<circle cx="122.8" cy="176.5" r="1.2" fill="none" stroke="#5050ff" stroke-width="0.45" opacity="0.85"/>
<circle cx="126.8" cy="176.7" r="1.2" fill="none" stroke="#5050ff" stroke-width="0.45" opacity="0.85"/>
<circle cx="130.8" cy="176.8" r="1.2" fill="none" stroke="#5050ff" stroke-width="0.45" opacity="0.85"/>
<circle cx="134.8" cy="176.9" r="1.2" fill="none" stroke="#5050ff" stroke-width="0.45" opacity="0.85"/>
<circle cx="138.8" cy="177.0" r="1.2" fill="none" stroke="#5050ff" stroke-width="0.45" opacity="0.85"/>
<circle cx="142.9" cy="177.1" r="1.2" fill="none" stroke="#5050ff" stroke-width="0.45" opacity="0.85"/>
<circle cx="146.9" cy="177.2" r="1.2" fill="none" stroke="#5050ff" stroke-width="0.45" opacity="0.85"/>
<circle cx="150.9" cy="177.3" r="1.2" fill="none" stroke="#5050ff" stroke-width="0.45" opacity="0.85"/>
<circle cx="154.9" cy="177.3" r="1.2" fill="none" stroke="#5050ff" stroke-width="0.45" opacity="0.85"/>
<circle cx="159.0" cy="177.3" r="1.2" fill="none" stroke="#5050ff" stroke-width="0.45" opacity="0.85"/>
<circle cx="163.0" cy="177.3" r="1.2" fill="none" stroke="#5050ff" stroke-width="0.45" opacity="0.85"/>
<circle cx="167.0" cy="177.3" r="1.2" fill="none" stroke="#5050ff" stroke-width="0.45" opacity="0.85"/>
<circle cx="171.0" cy="177.3" r="1.2" fill="none" stroke="#5050ff" stroke-width="0.45" opacity="0.85"/>
<circle cx="175.1" cy="177.3" r="1.2" fill="none" stroke="#5050ff" stroke-width="0.45" opacity="0.85"/>
<circle cx="179.1" cy="177.2" r="1.2" fill="none" stroke="#5050ff" stroke-width="0.45" opacity="0.85"/>
<circle cx="183.1" cy="177.1" r="1.2" fill="none" stroke="#5050ff" stroke-width="0.45" opacity="0.85"/>
<circle cx="187.1" cy="177.0" r="1.2" fill="none" stroke="#5050ff" stroke-width="0.45" opacity="0.85"/>
<circle cx="191.2" cy="176.9" r="1.2" fill="none" stroke="#5050ff" stroke-width="0.45" opacity="0.85"/>
<circle cx="195.2" cy="176.8" r="1.2" fill="none" stroke="#5050ff" stroke-width="0.45" opacity="0.85"/>
<circle cx="199.2" cy="176.7" r="1.2" fill="none" stroke="#5050ff" stroke-width="0.45" opacity="0.85"/>
<polyline points="78.5,186.4 82.5,186.0 86.5,185.5 90.6,185.0 94.6,184.3 98.6,183.5 102.6,182.6 106.7,181.7 110.7,180.7 114.7,179.6 118.7,178.7 122.8,177.7 126.8,176.7 130.8,175.7 134.8,174.6 138.8,173.7 142.9,172.8 146.9,172.0 150.9,171.4 154.9,170.9 159.0,170.5 163.0,170.5 167.0,170.7 171.0,170.9 175.1,171.5 179.1,172.2 183.1,173.0 187.1,173.9 191.2,174.7 195.2,175.6 199.2,176.4" fill="none" stroke="#000" stroke-width="0.6"/>
<circle cx="78.5" cy="186.4" r="1.4" fill="#000"/>
<circle cx="82.5" cy="186.0" r="1.4" fill="#000"/>
<circle cx="86.5" cy="185.5" r="1.4" fill="#000"/>
<circle cx="90.6" cy="185.0" r="1.4" fill="#000"/>
<circle cx="94.6" cy="184.3" r="1.4" fill="#000"/>
<circle cx="98.6" cy="183.5" r="1.4" fill="#000"/>
<circle cx="102.6" cy="182.6" r="1.4" fill="#000"/>
<circle cx="106.7" cy="181.7" r="1.4" fill="#000"/>
<circle cx="110.7" cy="180.7" r="1.4" fill="#000"/>
<circle cx="114.7" cy="179.6" r="1.4" fill="#000"/>
<circle cx="118.7" cy="178.7" r="1.4" fill="#000"/>
<circle cx="122.8" cy="177.7" r="1.4" fill="#000"/>
<circle cx="126.8" cy="176.7" r="1.4" fill="#000"/>
<circle cx="130.8" cy="175.7" r="1.4" fill="#000"/>
<circle cx="134.8" cy="174.6" r="1.4" fill="#000"/>
<circle cx="138.8" cy="173.7" r="1.4" fill="#000"/>
<circle cx="142.9" cy="172.8" r="1.4" fill="#000"/>
<circle cx="146.9" cy="172.0" r="1.4" fill="#000"/>
<circle cx="150.9" cy="171.4" r="1.4" fill="#000"/>
<circle cx="154.9" cy="170.9" r="1.4" fill="#000"/>
<circle cx="159.0" cy="170.5" r="1.4" fill="#000"/>
<circle cx="163.0" cy="170.5" r="1.4" fill="#000"/>
<circle cx="167.0" cy="170.7" r="1.4" fill="#000"/>
<circle cx="171.0" cy="170.9" r="1.4" fill="#000"/>
<circle cx="175.1" cy="171.5" r="1.4" fill="#000"/>
<circle cx="179.1" cy="172.2" r="1.4" fill="#000"/>
<circle cx="183.1" cy="173.0" r="1.4" fill="#000"/>
<circle cx="187.1" cy="173.9" r="1.4" fill="#000"/>
<circle cx="191.2" cy="174.7" r="1.4" fill="#000"/>
<circle cx="195.2" cy="175.6" r="1.4" fill="#000"/>
<circle cx="199.2" cy="176.4" r="1.4" fill="#000"/>
<polyline points="78.5,208.1 82.5,206.9 86.5,205.3 90.6,203.5 94.6,201.3 98.6,198.8 102.6,196.0 106.7,192.9 110.7,189.5 114.7,186.2 118.7,183.0 122.8,179.9 126.8,176.7 130.8,173.4 134.8,170.0 138.8,166.9 142.9,164.1 146.9,161.4 150.9,159.4 154.9,157.8 159.0,156.7 163.0,156.6 167.0,157.1 171.0,157.9 175.1,159.7 179.1,162.0 183.1,164.7 187.1,167.5 191.2,170.2 195.2,173.0 199.2,175.8" fill="none" stroke="#ff0000" stroke-width="0.6"/>
<circle cx="78.5" cy="208.1" r="1.2" fill="#ff0000"/>
<circle cx="82.5" cy="206.9" r="1.2" fill="#ff0000"/>
<circle cx="86.5" cy="205.3" r="1.2" fill="#ff0000"/>
<circle cx="90.6" cy="203.5" r="1.2" fill="#ff0000"/>
<circle cx="94.6" cy="201.3" r="1.2" fill="#ff0000"/>
<circle cx="98.6" cy="198.8" r="1.2" fill="#ff0000"/>
<circle cx="102.6" cy="196.0" r="1.2" fill="#ff0000"/>
<circle cx="106.7" cy="192.9" r="1.2" fill="#ff0000"/>
<circle cx="110.7" cy="189.5" r="1.2" fill="#ff0000"/>
<circle cx="114.7" cy="186.2" r="1.2" fill="#ff0000"/>
<circle cx="118.7" cy="183.0" r="1.2" fill="#ff0000"/>
<circle cx="122.8" cy="179.9" r="1.2" fill="#ff0000"/>
<circle cx="126.8" cy="176.7" r="1.2" fill="#ff0000"/>
<circle cx="130.8" cy="173.4" r="1.2" fill="#ff0000"/>
<circle cx="134.8" cy="170.0" r="1.2" fill="#ff0000"/>
<circle cx="138.8" cy="166.9" r="1.2" fill="#ff0000"/>
<circle cx="142.9" cy="164.1" r="1.2" fill="#ff0000"/>
<circle cx="146.9" cy="161.4" r="1.2" fill="#ff0000"/>
<circle cx="150.9" cy="159.4" r="1.2" fill="#ff0000"/>
<circle cx="154.9" cy="157.8" r="1.2" fill="#ff0000"/>
<circle cx="159.0" cy="156.7" r="1.2" fill="#ff0000"/>
<circle cx="163.0" cy="156.6" r="1.2" fill="#ff0000"/>
<circle cx="167.0" cy="157.1" r="1.2" fill="#ff0000"/>
<circle cx="171.0" cy="157.9" r="1.2" fill="#ff0000"/>
<circle cx="175.1" cy="159.7" r="1.2" fill="#ff0000"/>
<circle cx="179.1" cy="162.0" r="1.2" fill="#ff0000"/>
<circle cx="183.1" cy="164.7" r="1.2" fill="#ff0000"/>
<circle cx="187.1" cy="167.5" r="1.2" fill="#ff0000"/>
<circle cx="191.2" cy="170.2" r="1.2" fill="#ff0000"/>
<circle cx="195.2" cy="173.0" r="1.2" fill="#ff0000"/>
<circle cx="199.2" cy="175.8" r="1.2" fill="#ff0000"/>
<polyline points="78.5,229.0 82.5,227.0 86.5,224.3 90.6,221.3 94.6,217.7 98.6,213.5 102.6,208.9 106.7,203.7 110.7,198.1 114.7,192.5 118.7,187.2 122.8,182.0 126.8,176.7 130.8,171.1 134.8,165.5 138.8,160.4 142.9,155.6 146.9,151.3 150.9,147.9 154.9,145.2 159.0,143.3 163.0,143.2 167.0,144.0 171.0,145.4 175.1,148.4 179.1,152.1 183.1,156.7 187.1,161.3 191.2,165.9 195.2,170.5 199.2,175.3" fill="none" stroke="#0000ff" stroke-width="0.6"/>
<circle cx="78.5" cy="229.0" r="1.0" fill="#0000ff"/>
<circle cx="82.5" cy="227.0" r="1.0" fill="#0000ff"/>
<circle cx="86.5" cy="224.3" r="1.0" fill="#0000ff"/>
<circle cx="90.6" cy="221.3" r="1.0" fill="#0000ff"/>
<circle cx="94.6" cy="217.7" r="1.0" fill="#0000ff"/>
<circle cx="98.6" cy="213.5" r="1.0" fill="#0000ff"/>
<circle cx="102.6" cy="208.9" r="1.0" fill="#0000ff"/>
<circle cx="106.7" cy="203.7" r="1.0" fill="#0000ff"/>
<circle cx="110.7" cy="198.1" r="1.0" fill="#0000ff"/>
<circle cx="114.7" cy="192.5" r="1.0" fill="#0000ff"/>
<circle cx="118.7" cy="187.2" r="1.0" fill="#0000ff"/>
<circle cx="122.8" cy="182.0" r="1.0" fill="#0000ff"/>
<circle cx="126.8" cy="176.7" r="1.0" fill="#0000ff"/>
<circle cx="130.8" cy="171.1" r="1.0" fill="#0000ff"/>
<circle cx="134.8" cy="165.5" r="1.0" fill="#0000ff"/>
<circle cx="138.8" cy="160.4" r="1.0" fill="#0000ff"/>
<circle cx="142.9" cy="155.6" r="1.0" fill="#0000ff"/>
<circle cx="146.9" cy="151.3" r="1.0" fill="#0000ff"/>
<circle cx="150.9" cy="147.9" r="1.0" fill="#0000ff"/>
<circle cx="154.9" cy="145.2" r="1.0" fill="#0000ff"/>
<circle cx="159.0" cy="143.3" r="1.0" fill="#0000ff"/>
<circle cx="163.0" cy="143.2" r="1.0" fill="#0000ff"/>
<circle cx="167.0" cy="144.0" r="1.0" fill="#0000ff"/>
<circle cx="171.0" cy="145.4" r="1.0" fill="#0000ff"/>
<circle cx="175.1" cy="148.4" r="1.0" fill="#0000ff"/>
<circle cx="179.1" cy="152.1" r="1.0" fill="#0000ff"/>
<circle cx="183.1" cy="156.7" r="1.0" fill="#0000ff"/>
<circle cx="187.1" cy="161.3" r="1.0" fill="#0000ff"/>
<circle cx="191.2" cy="165.9" r="1.0" fill="#0000ff"/>
<circle cx="195.2" cy="170.5" r="1.0" fill="#0000ff"/>
<circle cx="199.2" cy="175.3" r="1.0" fill="#0000ff"/>
<rect x="127.2" y="182.7" width="41.5" height="24.5" fill="#fff" stroke="#bbb" stroke-width="0.5"/>
<line x1="128.6" y1="187.8" x2="142" y2="187.8" stroke="#000" stroke-width="0.6" stroke-dasharray="4.5 0.8 3.2 0.8 4.5"/>
<circle cx="135.7" cy="187.8" r="1.4" fill="#000"/>
<text x="143.5" y="190.2" font-size="7" fill="#222" style="stroke-opacity:0.15;text-rendering:geometricPrecision"><tspan font-style="italic">Ma</tspan>=0.33</text>
<line x1="128.6" y1="195.3" x2="142" y2="195.3" stroke="#ff0000" stroke-width="0.6" stroke-dasharray="4.5 0.8 3.2 0.8 4.5"/>
<circle cx="135.7" cy="195.3" r="1.4" fill="#ff0000"/>
<text x="143.5" y="197.7" font-size="7" fill="#222" style="stroke-opacity:0.15;text-rendering:geometricPrecision"><tspan font-style="italic">Ma</tspan>=0.60</text>
<line x1="128.6" y1="202.8" x2="142" y2="202.8" stroke="#0000ff" stroke-width="0.6" stroke-dasharray="4.5 0.8 3.2 0.8 4.5"/>
<circle cx="135.7" cy="202.8" r="1.4" fill="#0000ff"/>
<text x="143.5" y="205.2" font-size="7" fill="#222" style="stroke-opacity:0.15;text-rendering:geometricPrecision"><tspan font-style="italic">Ma</tspan>=0.84</text>
<path d="M158.4 154.1 L158.4 142.8 L156.4 142.8 L160.3 137.1 L164.1 142.8 L162.3 142.8 L162.3 154.1Z" fill="#000"/>
<path d="M93.5 207.3 L93.5 219.2 L91.7 219.2 L95.6 224.7 L99.5 219.2 L97.3 219.2 L97.3 207.3Z" fill="#000"/>
<text x="101" y="218.6" font-size="5.2" fill="#222">Solid:</text>
<text x="117" y="216" font-size="5" font-style="italic" fill="#222">F<tspan font-size="3.5" dy="0.8">sim</tspan><tspan dy="-0.8"> &#8722; </tspan>F<tspan font-size="3.5" dy="0.8">sim</tspan></text>
<line x1="116.7" y1="217.5" x2="137" y2="217.5" stroke="#222" stroke-width="0.35"/>
<line x1="127.5" y1="211.3" x2="134" y2="211.3" stroke="#222" stroke-width="0.3"/>
<text x="123" y="222.8" font-size="5" font-style="italic" fill="#222">F<tspan font-size="3.5" dy="0.8">sim</tspan></text>
<text x="145.8" y="218.6" font-size="5.2" fill="#222">Open:</text>
<text x="160.8" y="216" font-size="5" font-style="italic" fill="#222">&#8706;p / &#8706;z &#8722; &#8706;p / &#8706;z</text>
<line x1="160.7" y1="217.5" x2="195" y2="217.5" stroke="#222" stroke-width="0.35"/>
<line x1="179" y1="211.3" x2="195" y2="211.3" stroke="#222" stroke-width="0.3"/>
<text x="170" y="222.8" font-size="5" font-style="italic" fill="#222">&#8706;p / &#8706;z</text>
<text x="204.4" y="170.8" font-size="10.85" fill="#111" style="stroke-width:0.25px;stroke-opacity:0.9;text-rendering:auto">Flow Alterations</text>
<path d="M205 180.5 L253.2 180.5 L253.2 177 L260.3 184.2 L253.2 191.2 L253.2 188.2 L205 188.2Z" fill="#ff0000"/>
<rect x="287.2" y="138.0" width="98.8" height="99.4" fill="none" stroke="#aaa" stroke-width="0.8"/>
<line x1="307.0" y1="138.0" x2="307.0" y2="237.4" stroke="#ececec" stroke-width="0.5"/>
<line x1="326.7" y1="138.0" x2="326.7" y2="237.4" stroke="#ececec" stroke-width="0.5"/>
<line x1="346.5" y1="138.0" x2="346.5" y2="237.4" stroke="#ececec" stroke-width="0.5"/>
<line x1="366.2" y1="138.0" x2="366.2" y2="237.4" stroke="#ececec" stroke-width="0.5"/>
<line x1="287.2" y1="215.3" x2="386.0" y2="215.3" stroke="#ececec" stroke-width="0.5"/>
<line x1="287.2" y1="193.3" x2="386.0" y2="193.3" stroke="#ececec" stroke-width="0.5"/>
<line x1="287.2" y1="171.2" x2="386.0" y2="171.2" stroke="#ececec" stroke-width="0.5"/>
<line x1="287.2" y1="149.2" x2="386.0" y2="149.2" stroke="#ececec" stroke-width="0.5"/>
<path d="M307.0 138.0v1.5M307.0 237.4v-1.5M326.7 138.0v1.5M326.7 237.4v-1.5M346.5 138.0v1.5M346.5 237.4v-1.5M366.2 138.0v1.5M366.2 237.4v-1.5M287.2 215.3h1.5M386.0 215.3h-1.5M287.2 193.3h1.5M386.0 193.3h-1.5M287.2 171.2h1.5M386.0 171.2h-1.5M287.2 149.2h1.5M386.0 149.2h-1.5" stroke="#777" stroke-width="0.5" fill="none"/>
<text x="285.6" y="239.2" font-size="5.2" text-anchor="end" fill="#333">0.0</text>
<text x="285.6" y="217.2" font-size="5.2" text-anchor="end" fill="#333">0.5</text>
<text x="285.6" y="195.1" font-size="5.2" text-anchor="end" fill="#333">1.0</text>
<text x="285.6" y="173.1" font-size="5.2" text-anchor="end" fill="#333">1.5</text>
<text x="285.6" y="151.0" font-size="5.2" text-anchor="end" fill="#333">2.0</text>
<text x="307.0" y="243.2" font-size="5.2" text-anchor="middle" fill="#333">0.2</text>
<text x="326.7" y="243.2" font-size="5.2" text-anchor="middle" fill="#333">0.4</text>
<text x="346.5" y="243.2" font-size="5.2" text-anchor="middle" fill="#333">0.6</text>
<text x="366.2" y="243.2" font-size="5.2" text-anchor="middle" fill="#333">0.8</text>
<text x="386.0" y="243.2" font-size="5.2" text-anchor="middle" fill="#333">1.0</text>
<text x="336" y="249.6" font-size="6" font-style="italic" text-anchor="middle" fill="#333">y/D</text>
<text transform="translate(276.2 187.5) rotate(-90)" font-size="5.5" font-style="italic" text-anchor="middle" fill="#333">w/w<tspan font-size="3.8" dy="1">ave</tspan></text>
<text x="291.6" y="155" font-size="6.5" fill="#333"><tspan font-style="italic">Ro</tspan>=0.2</text>
<polyline points="287.2,237.1 288.2,235.0 289.2,232.6 290.2,230.0 291.2,227.2 292.1,224.4 293.1,221.5 294.1,218.6 295.1,215.8 296.1,213.0 297.1,210.3 298.1,207.7 299.1,205.2 300.0,202.8 301.0,200.6 302.0,198.4 303.0,196.3 304.0,194.3 305.0,192.4 306.0,190.6 307.0,188.9 307.9,187.2 308.9,185.5 309.9,183.9 310.9,182.4 311.9,180.8 312.9,179.3 313.9,177.9 314.9,176.4 315.9,175.0 316.8,173.5 317.8,172.1 318.8,170.7 319.8,169.3 320.8,167.9 321.8,166.5 322.8,165.2 323.8,163.9 324.7,162.6 325.7,161.3 326.7,160.0 327.7,158.8 328.7,157.6 329.7,156.5 330.7,155.4 331.7,154.3 332.6,153.3 333.6,152.3 334.6,151.4 335.6,150.6 336.6,149.8 337.6,149.0 338.6,148.3 339.6,147.7 340.6,147.1 341.5,146.6 342.5,146.2 343.5,145.8 344.5,145.4 345.5,145.1 346.5,144.9 347.5,144.8 348.5,144.6 349.4,144.6 350.4,144.6 351.4,144.7 352.4,144.8 353.4,145.0 354.4,145.3 355.4,145.7 356.4,146.1 357.3,146.7 358.3,147.3 359.3,148.1 360.3,149.0 361.3,150.0 362.3,151.2 363.3,152.5 364.3,154.0 365.3,155.7 366.2,157.6 367.2,159.7 368.2,162.0 369.2,164.6 370.2,167.4 371.2,170.5 372.2,173.8 373.2,177.5 374.1,181.3 375.1,185.5 376.1,189.9 377.1,194.5 378.1,199.3 379.1,204.3 380.1,209.4 381.1,214.5 382.0,219.7 383.0,224.7 384.0,229.5 385.0,233.9 386.0,237.8" fill="none" stroke="#ff2020" stroke-width="0.7" stroke-dasharray="2 1"/>
<circle cx="287.2" cy="237.1" r="0.8" fill="#ff0000"/>
<circle cx="291.2" cy="227.2" r="0.8" fill="#ff0000"/>
<circle cx="295.1" cy="215.8" r="0.8" fill="#ff0000"/>
<circle cx="299.1" cy="205.2" r="0.8" fill="#ff0000"/>
<circle cx="303.0" cy="196.3" r="0.8" fill="#ff0000"/>
<circle cx="307.0" cy="188.9" r="0.8" fill="#ff0000"/>
<circle cx="310.9" cy="182.4" r="0.8" fill="#ff0000"/>
<circle cx="314.9" cy="176.4" r="0.8" fill="#ff0000"/>
<circle cx="318.8" cy="170.7" r="0.8" fill="#ff0000"/>
<circle cx="322.8" cy="165.2" r="0.8" fill="#ff0000"/>
<circle cx="326.7" cy="160.0" r="0.8" fill="#ff0000"/>
<circle cx="330.7" cy="155.4" r="0.8" fill="#ff0000"/>
<circle cx="334.6" cy="151.4" r="0.8" fill="#ff0000"/>
<circle cx="338.6" cy="148.3" r="0.8" fill="#ff0000"/>
<circle cx="342.5" cy="146.2" r="0.8" fill="#ff0000"/>
<circle cx="346.5" cy="144.9" r="0.8" fill="#ff0000"/>
<circle cx="350.4" cy="144.6" r="0.8" fill="#ff0000"/>
<circle cx="354.4" cy="145.3" r="0.8" fill="#ff0000"/>
<circle cx="358.3" cy="147.3" r="0.8" fill="#ff0000"/>
<circle cx="362.3" cy="151.2" r="0.8" fill="#ff0000"/>
<circle cx="366.2" cy="157.6" r="0.8" fill="#ff0000"/>
<circle cx="370.2" cy="167.4" r="0.8" fill="#ff0000"/>
<circle cx="374.1" cy="181.3" r="0.8" fill="#ff0000"/>
<circle cx="378.1" cy="199.3" r="0.8" fill="#ff0000"/>
<circle cx="382.0" cy="219.7" r="0.8" fill="#ff0000"/>
<circle cx="386.0" cy="237.8" r="0.8" fill="#ff0000"/>
<polyline points="287.2,237.2 288.2,234.4 289.2,231.4 290.2,228.4 291.2,225.2 292.1,222.1 293.1,218.9 294.1,215.9 295.1,212.9 296.1,209.9 297.1,207.1 298.1,204.4 299.1,201.8 300.0,199.3 301.0,196.9 302.0,194.6 303.0,192.5 304.0,190.4 305.0,188.4 306.0,186.5 307.0,184.6 307.9,182.9 308.9,181.1 309.9,179.5 310.9,177.9 311.9,176.3 312.9,174.8 313.9,173.4 314.9,171.9 315.9,170.5 316.8,169.1 317.8,167.8 318.8,166.5 319.8,165.2 320.8,163.9 321.8,162.7 322.8,161.5 323.8,160.4 324.7,159.3 325.7,158.2 326.7,157.1 327.7,156.1 328.7,155.2 329.7,154.3 330.7,153.4 331.7,152.6 332.6,151.8 333.6,151.1 334.6,150.4 335.6,149.8 336.6,149.3 337.6,148.8 338.6,148.4 339.6,148.0 340.6,147.7 341.5,147.4 342.5,147.2 343.5,147.0 344.5,147.0 345.5,146.9 346.5,146.9 347.5,147.0 348.5,147.1 349.4,147.3 350.4,147.6 351.4,147.9 352.4,148.3 353.4,148.7 354.4,149.2 355.4,149.8 356.4,150.5 357.3,151.3 358.3,152.1 359.3,153.1 360.3,154.1 361.3,155.3 362.3,156.6 363.3,158.1 364.3,159.7 365.3,161.5 366.2,163.4 367.2,165.5 368.2,167.8 369.2,170.3 370.2,173.0 371.2,176.0 372.2,179.1 373.2,182.5 374.1,186.0 375.1,189.8 376.1,193.8 377.1,198.0 378.1,202.4 379.1,206.9 380.1,211.5 381.1,216.1 382.0,220.7 383.0,225.3 384.0,229.7 385.0,233.9 386.0,237.7" fill="none" stroke="#222" stroke-width="1.0"/>
<text x="312.5" y="190.4" font-size="9.4" fill="#111" style="stroke-width:0.25px;stroke-opacity:0.9;text-rendering:auto">Velocity Profile</text>
<rect x="313" y="209.1" width="56.3" height="14.1" fill="#fff" stroke="#ccc" stroke-width="0.5"/>
<line x1="314.5" y1="213.2" x2="325.7" y2="213.2" stroke="#ff2020" stroke-width="0.7" stroke-dasharray="2 1"/>
<circle cx="320.1" cy="213.2" r="0.9" fill="#ff0000"/>
<text x="327" y="215.2" font-size="5.2" fill="#222">Compressible flow</text>
<line x1="314.5" y1="218.6" x2="325.7" y2="218.6" stroke="#222" stroke-width="1"/>
<text x="327" y="220.6" font-size="5.2" fill="#222">Incompressible flow</text>
</svg></body></html>
